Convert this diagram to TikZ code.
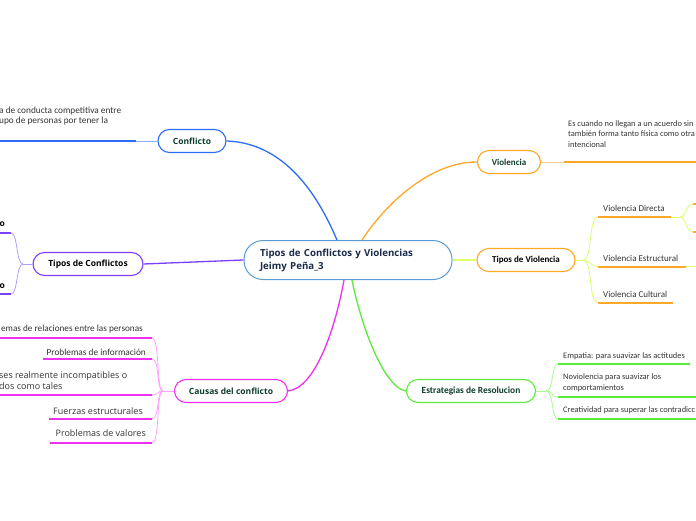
\documentclass[tikz,border=0pt]{standalone}
\usepackage{fontspec}
\setmainfont{Open Sans}
\newfontfamily\carl{Carlito}
\usetikzlibrary{calc}
\definecolor{cblue}{HTML}{2D6CF6}
\definecolor{lblue}{HTML}{8AAEFC}
\definecolor{corange}{HTML}{FFA726}
\definecolor{lorange}{HTML}{FFD08A}
\definecolor{cyg}{HTML}{D9FF6A}
\definecolor{cgreen}{HTML}{5BEB3A}
\definecolor{lgreen}{HTML}{A8F890}
\definecolor{cmag}{HTML}{F030F0}
\definecolor{lmag}{HTML}{FFA0FF}
\definecolor{cpurp}{HTML}{7B3FFF}
\definecolor{lpurp}{HTML}{B49CFF}
\definecolor{croot}{HTML}{5A9BD5}
\definecolor{ntext}{HTML}{0E3D2C}
\definecolor{ltext}{HTML}{333333}
\definecolor{rtext}{HTML}{1B2A49}
\tikzset{
  lone/.style={draw, rounded corners=11.5pt, line width=1.1pt, fill=white,
    minimum height=23pt, inner sep=0pt, text=ntext,
    font=\fontsize{8.5}{10}\selectfont\bfseries},
  lonec/.style={lone, font=\fontsize{9}{10}\carl\bfseries},
  main/.style={line width=1.3pt},
  thinb/.style={line width=0.8pt},
  under/.style={line width=2pt},
  leaf/.style={inner sep=0pt, text=ltext, align=left, font=\fontsize{9}{11}\carl},
  leafs/.style={leaf, font=\fontsize{8.4}{11.5}\carl},
  leafo/.style={inner sep=0pt, text=ltext, align=left, font=\fontsize{9}{11}\selectfont},
}
\begin{document}
\begin{tikzpicture}[x=1pt,y=-1pt]
\useasboundingbox (0,0) rectangle (696,520);

% root
\node[draw=croot, line width=1pt, rounded corners=19pt, fill=white,
  minimum width=208pt, minimum height=39pt, inner xsep=16pt, inner ysep=0pt,
  text width=176pt, align=left, text=rtext,
  font=\fontsize{9.7}{13}\selectfont\bfseries] (root) at (348,260) {Tipos de Conflictos y Violencias\\Jeimy Peña\_3};

% level 1 nodes
\node[lone, draw=cblue, minimum width=68pt] (conf) at (192,141) {Conflicto};
\node[lonec, draw=corange, minimum width=63pt] (viol) at (509,162) {Violencia};
\node[lonec, draw=corange, minimum width=98pt, text=black] (tviol) at (526,260) {Tipos de Violencia};
\node[lonec, draw=cgreen, minimum width=129pt, font=\fontsize{9.4}{10}\carl\bfseries] (estr) at (471,391) {Estrategias de Resolucion};
\node[lone, draw=cmag, minimum width=113pt] (caus) at (231,391) {Causas del conflicto};
\node[lone, draw=cpurp, minimum width=110pt, text=black] (tconf) at (88,264) {Tipos de Conflictos};

% main connectors
\draw[main, cblue] ($(root.north)+(-11,0)$) .. controls (322,205) and (290,143) .. (conf.east);
\draw[main, corange] ($(root.north)+(14,0)$) .. controls (380,212) and (425,162) .. (viol.west);
\draw[main, cyg] (root.east) -- (tviol.west);
\draw[main, cpurp] (root.west) -- (tconf.east);
\draw[main, cmag] ($(root.south)+(-4,0)$) .. controls (335,330) and (315,388) .. (caus.east);
\draw[main, cgreen] ($(root.south)+(4,0)$) .. controls (362,330) and (385,388) .. (estr.west);

% Conflicto leaf
\coordinate (confL) at (136,141);
\coordinate (confE) at (0,141);
\draw[thinb, lblue] (conf.west) -- (confL);
\draw[under, cblue] (confL) -- (confE);
\node[leaf, font=\fontsize{9.3}{10.5}\carl, anchor=west] (confT) at (-1,116) {a de conducta competitiva entre\\upo de personas por tener la};

% Violencia leaf
\coordinate (violL) at (564,162);
\coordinate (violE) at (696,162);
\draw[thinb, lorange] (viol.east) -- (violL);
\draw[under, corange] (violL) -- (violE);
\node[leaf, anchor=west, font=\fontsize{8.4}{10.3}\carl] (violT) at (568,134) {Es cuando no llegan a un acuerdo sin\\también forma tanto física como otra\\intencional};

% Tipos de Violencia children
\coordinate (tvB) at (583,260);
\coordinate (vdL) at (598,217); \coordinate (vdR) at (671,217);
\coordinate (veL) at (598,266.5); \coordinate (veR) at (686,266.5); \coordinate (veE) at (696,266.5);
\coordinate (vcL) at (598,302.5); \coordinate (vcR) at (673,302.5);
\draw[thinb, cyg] (tviol.east) -- (tvB);
\draw[thinb, cyg] (tvB) .. controls (593,260) and (588,217) .. (vdL);
\draw[thinb, cyg] (tvB) .. controls (590,260) and (590,266.5) .. (veL);
\draw[thinb, cyg] (tvB) .. controls (593,260) and (588,302.5) .. (vcL);
\draw[under, corange] (vdL) -- (vdR);
\draw[under, corange] (veL) -- (veR);
\draw[thinb, cyg] (veR) -- (veE);
\draw[under, corange] (vcL) -- (vcR);
\node[leaf, anchor=west] (vdT) at (603,208) {Violencia Directa};
\node[leaf, anchor=west] (veT) at (603,258) {Violencia Estructural};
\node[leaf, anchor=west] (vcT) at (603,294) {Violencia Cultural};
% Directa sub-branches
\coordinate (vdB) at (680,217);
\coordinate (vd1) at (693,204); \coordinate (vd1E) at (696,204);
\coordinate (vd2) at (693,232); \coordinate (vd2E) at (696,232);
\draw[thinb, cyg] (vdR) -- (vdB);
\draw[thinb, cyg] (vdB) .. controls (686,217) and (686,204) .. (vd1);
\draw[thinb, cyg] (vdB) .. controls (686,217) and (686,232) .. (vd2);
\draw[under, corange] (vd1) -- (vd1E);
\draw[under, corange] (vd2) -- (vd2E);

% Estrategias children
\coordinate (esB) at (546,391);
\coordinate (emL) at (558,364); \coordinate (emR) at (690,364);
\coordinate (noL) at (558,397); \coordinate (noR) at (696,397);
\coordinate (crL) at (558,419); \coordinate (crR) at (696,419);
\draw[thinb, lgreen] (estr.east) -- (esB);
\draw[thinb, lgreen] (esB) .. controls (554,391) and (551,364) .. (emL);
\draw[thinb, lgreen] (esB) .. controls (553,391) and (551,397) .. (noL);
\draw[thinb, lgreen] (esB) .. controls (554,391) and (551,419) .. (crL);
\draw[under, cgreen] (emL) -- (emR);
\draw[under, cgreen] (noL) -- (noR);
\draw[under, cgreen] (crL) -- (crR);
\node[leafs, anchor=west] (emT) at (563,356) {Empatia: para suavizar las actitudes};
\node[leafs, anchor=west] (noT) at (563,383) {Noviolencia para suavizar los\\comportamientos};
\node[leafs, anchor=west] (crT) at (563,410) {Creatividad para superar las contradicc};

% Causas children
\coordinate (caB) at (163,391);
\coordinate (reR) at (152,338); \coordinate (reL) at (0,338);
\coordinate (inR) at (152,359); \coordinate (inL) at (43,359);
\coordinate (icR) at (152,395); \coordinate (icL) at (0,395);
\coordinate (fuR) at (152,419); \coordinate (fuL) at (49,419);
\coordinate (vaR) at (152,443); \coordinate (vaL) at (50,443);
\draw[thinb, lmag] (caus.west) -- (caB);
\draw[thinb, lmag] (caB) .. controls (156,391) and (160,338) .. (reR);
\draw[thinb, lmag] (caB) .. controls (156,391) and (160,359) .. (inR);
\draw[thinb, lmag] (caB) .. controls (157,391) and (158,395) .. (icR);
\draw[thinb, lmag] (caB) .. controls (156,391) and (160,419) .. (fuR);
\draw[thinb, lmag] (caB) .. controls (156,391) and (160,443) .. (vaR);
\draw[under, cmag] (reR) -- (reL);
\draw[under, cmag] (inR) -- (inL);
\draw[under, cmag] (icR) -- (icL);
\draw[under, cmag] (fuR) -- (fuL);
\draw[under, cmag] (vaR) -- (vaL);
\node[leaf, anchor=east, font=\fontsize{9.2}{11}\carl] (reT) at (143,329) {emas de relaciones entre las personas};
\node[leaf, anchor=east, font=\fontsize{9.3}{11}\carl] (inT) at (146,352) {Problemas de información};
\node[leafo, anchor=west] (icT) at (-1,380.5) {ses realmente incompatibles o\\dos como tales};
\node[leafo, anchor=east] (fuT) at (143,411) {Fuerzas estructurales};
\node[leafo, anchor=east] (vaT) at (146,433) {Problemas de valores};

% Tipos de Conflictos children
\coordinate (tcB) at (23,264);
\coordinate (t1R) at (11,233); \coordinate (t1L) at (0,233);
\coordinate (t2R) at (11,294); \coordinate (t2L) at (0,294);
\draw[thinb, lpurp] (tconf.west) -- (tcB);
\draw[thinb, lpurp] (tcB) .. controls (16,264) and (18,233) .. (t1R);
\draw[thinb, lpurp] (tcB) .. controls (16,264) and (18,294) .. (t2R);
\draw[under, cpurp] (t1R) -- (t1L);
\draw[under, cpurp] (t2R) -- (t2L);
\node[inner sep=0pt, anchor=east, font=\fontsize{8.5}{10}\selectfont\bfseries] (t1T) at (5,224) {o};
\node[inner sep=0pt, anchor=east, font=\fontsize{8.5}{10}\selectfont\bfseries] (t2T) at (5,286) {o};
\end{tikzpicture}
\end{document}
